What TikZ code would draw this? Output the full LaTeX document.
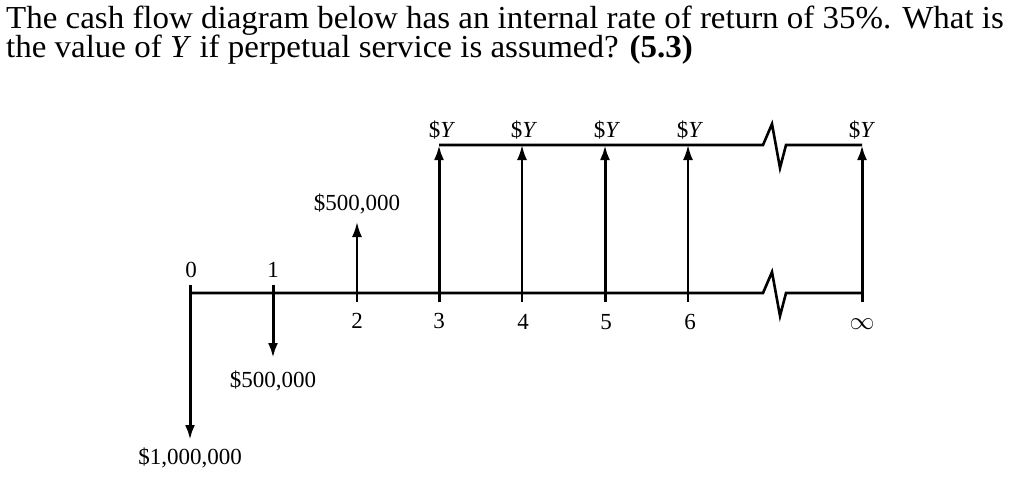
\documentclass[tikz,border=0pt]{standalone}
\usepackage{fontspec}
\setmainfont{Liberation Serif}
\usetikzlibrary{arrows.meta}
\begin{document}
\begin{tikzpicture}[x=1pt,y=-1pt,
  axisline/.style={line width=2.6pt},
  flow/.style={line width=3pt,-{Latex[length=15pt,width=10pt]}},
  thinflow/.style={line width=2.2pt,-{Latex[length=15pt,width=10pt]}},
  lbl/.style={font=\fontsize{23}{26}\selectfont, inner sep=0pt},
  ttl/.style={font=\fontsize{32}{34}\selectfont, inner sep=0pt, anchor=base west},
]
\useasboundingbox (0,0) rectangle (1024,484);
% title
\node[ttl] (title1) at (6,29) {\scalebox{1.03}[1]{The cash flow diagram below has an internal rate of return of 35\%. What is}};
\node[ttl] (title2) at (6,58) {\scalebox{1.03}[1]{the value of \textit{Y} if perpetual service is assumed? \textbf{(5.3)}}};
% axis coordinates
\coordinate (a0) at (190,293);
\coordinate (a1) at (273,293);
\coordinate (a2) at (357,293);
\coordinate (a3) at (439,293);
\coordinate (a4) at (522,293);
\coordinate (a5) at (605,293);
\coordinate (a6) at (688,293);
\coordinate (ainf) at (862,293);
\coordinate (abk) at (763,293);
% tick ends
\coordinate (u0) at (190,285);
\coordinate (u1) at (273,285);
\coordinate (d2) at (357,302);
\coordinate (d3) at (439,302);
\coordinate (d4) at (522,302);
\coordinate (d5) at (605,302);
\coordinate (d6) at (688,302);
\coordinate (dinf) at (862,302);
% arrow ends
\coordinate (e0) at (190,440);
\coordinate (e1) at (273,358);
\coordinate (e2) at (357,222);
\coordinate (t3) at (439,145);
\coordinate (t4) at (522,145);
\coordinate (t5) at (605,145);
\coordinate (t6) at (688,145);
\coordinate (tinf) at (862,145);
\coordinate (tbk) at (763,145);
% axis with break
\draw[axisline] (a0) -- (abk) -- ++(9,-21) -- ++(8,44) -- ++(6,-23) -- (ainf);
% top line with break
\draw[axisline] (t3) -- (tbk) -- ++(9,-21) -- ++(8,44) -- ++(6,-23) -- (tinf);
% cash flows
\draw[flow] (u0) -- (e0);
\draw[flow] (u1) -- (e1);
\draw[thinflow] (d2) -- (e2);
\draw[flow] (d3) -- (t3);
\draw[thinflow] (d4) -- (t4);
\draw[flow] (d5) -- (t5);
\draw[thinflow] (d6) -- (t6);
\draw[flow] (dinf) -- (tinf);
% time labels
\node[lbl] (n0) at (191,270) {0};
\node[lbl] (n1) at (273,270) {1};
\node[lbl] (n2) at (357,321) {2};
\node[lbl] (n3) at (439,321) {3};
\node[lbl] (n4) at (523,322) {4};
\node[lbl] (n5) at (606,322) {5};
\node[lbl] (n6) at (690,322) {6};
\node[lbl] (ninf) at (862,324) {$\infty$};
% amount labels
\node[lbl] (v2) at (357,204) {\$500,000};
\node[lbl] (v1) at (273,381) {\$500,000};
\node[lbl] (v0) at (190,458) {\$1,000,000};
\node[lbl] (y3) at (442,130) {\$\textit{Y}};
\node[lbl] (y4) at (524,130) {\$\textit{Y}};
\node[lbl] (y5) at (607,130) {\$\textit{Y}};
\node[lbl] (y6) at (690,130) {\$\textit{Y}};
\node[lbl] (yinf) at (862,130) {\$\textit{Y}};
\end{tikzpicture}
\end{document}
